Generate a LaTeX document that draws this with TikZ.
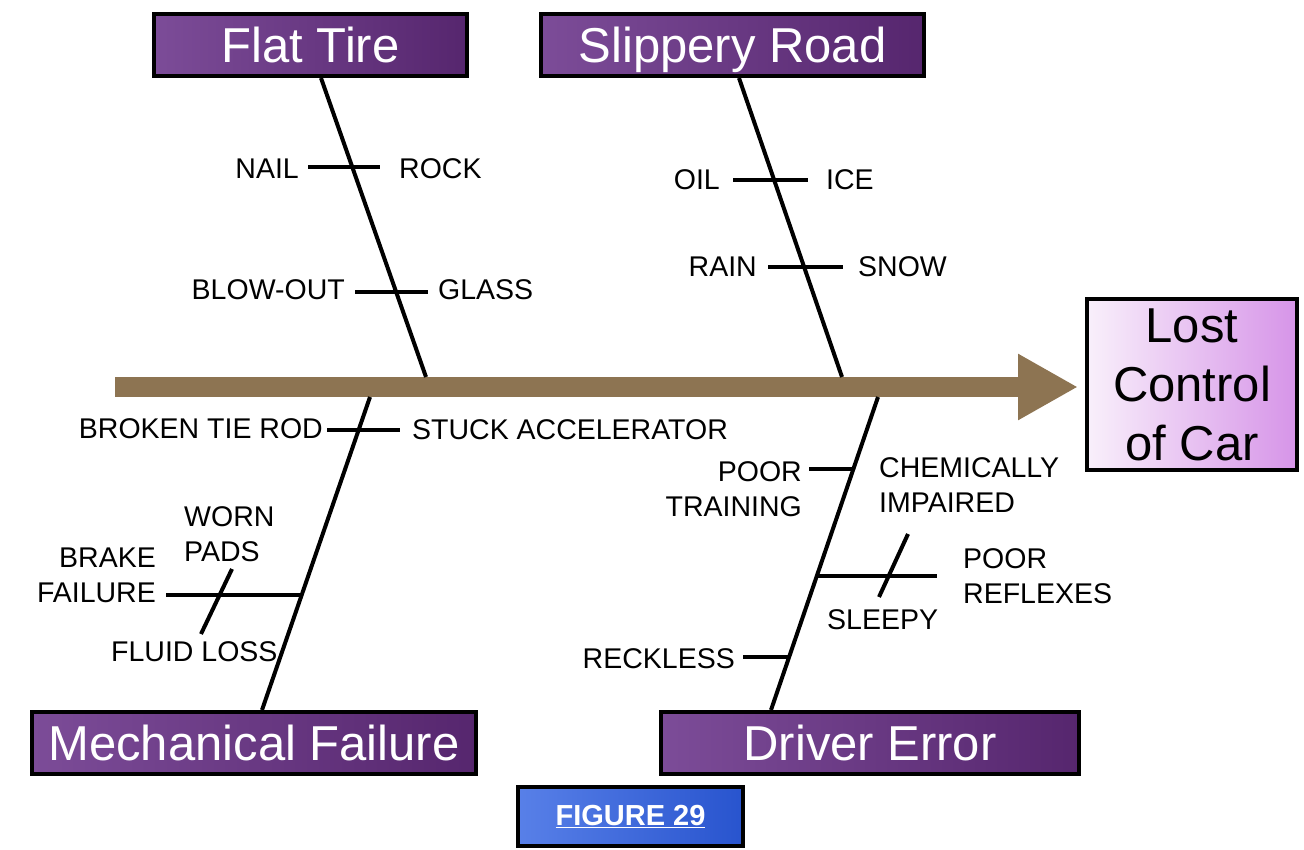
\documentclass[tikz,border=0pt]{standalone}
\usepackage{fontspec}
\setmainfont{Liberation Sans}
\usetikzlibrary{arrows.meta}
\definecolor{purpL}{RGB}{124,76,152}
\definecolor{purpR}{RGB}{86,38,110}
\definecolor{lostL}{RGB}{249,240,251}
\definecolor{lostR}{RGB}{214,148,232}
\definecolor{figL}{RGB}{88,128,232}
\definecolor{figR}{RGB}{40,84,206}
\definecolor{spine}{RGB}{141,116,82}
\begin{document}
\begin{tikzpicture}[x=1pt,y=-1pt,
  bone/.style={line width=4pt,black},
  cat/.style={draw=black,line width=4.5pt,left color=purpL,right color=purpR,text=white,
    font=\fontsize{49}{59}\selectfont,minimum height=62pt,text height=35pt,text depth=0pt,inner sep=0pt},
  lbl/.style={inner sep=0pt,font=\fontsize{28.5}{35}\selectfont}]
\useasboundingbox (0,0) rectangle (1304,850);

\node[cat,minimum width=313pt] (flat) at (310.5,45) {Flat Tire};
\node[cat,minimum width=383pt] (slip) at (732.5,45) {Slippery Road};
\node[cat,minimum width=444pt] (mech) at (254,743) {Mechanical Failure};
\node[cat,minimum width=418pt] (driver) at (870,743) {Driver Error};
\node[draw=black,line width=4.5pt,left color=lostL,right color=lostR,minimum width=210pt,minimum height=171pt,
  align=center,inner sep=0pt,font=\fontsize{49}{59}\selectfont] (lost) at (1192,384.5) {Lost\\Control\\of Car};
\node[draw=black,line width=4.5pt,left color=figL,right color=figR,text=white,minimum width=225pt,minimum height=59pt,
  inner sep=0pt,font=\bfseries\fontsize{29}{35}\selectfont] (fig) at (630.5,816.5) {\underline{FIGURE 29}};

% main arrow
\coordinate (tail) at (115,387);
\coordinate (head) at (1078,387);
\draw[spine,line width=20pt,-{Triangle[length=60pt,width=62pt]}] (tail) -- (head);

% bones
\path (321,78) coordinate (flatTop) (426,377) coordinate (flatEnd)
      (739,78) coordinate (slipTop) (842,377) coordinate (slipEnd)
      (370,397) coordinate (mechTop) (262,710) coordinate (mechEnd)
      (878,397) coordinate (drvTop) (771,710) coordinate (drvEnd);
\draw[bone] (flatTop) -- (flatEnd);
\draw[bone] (slipTop) -- (slipEnd);
\draw[bone] (mechTop) -- (mechEnd);
\draw[bone] (drvTop) -- (drvEnd);

% flat tire
\path (308,167) coordinate (nailL) (380,167) coordinate (nailR)
      (355,292) coordinate (blowL) (428,292) coordinate (blowR);
\draw[bone] (nailL) -- (nailR);
\draw[bone] (blowL) -- (blowR);
\node[lbl,anchor=east] (nail) at (299,168.5) {NAIL};
\node[lbl,anchor=west] (rock) at (399,168.5) {ROCK};
\node[lbl,anchor=east] (blow) at (345,290) {BLOW-OUT};
\node[lbl,anchor=west] (glass) at (438,290) {GLASS};

% slippery road
\path (733,180) coordinate (oilL) (808,180) coordinate (oilR)
      (768,267) coordinate (rainL) (843,267) coordinate (rainR);
\draw[bone] (oilL) -- (oilR);
\draw[bone] (rainL) -- (rainR);
\node[lbl,anchor=east] (oil) at (720,180) {OIL};
\node[lbl,anchor=west] (ice) at (826,180) {ICE};
\node[lbl,anchor=east] (rain) at (757,267) {RAIN};
\node[lbl,anchor=west] (snow) at (858,267) {SNOW};

% mechanical failure
\path (327,430) coordinate (tieL) (400,430) coordinate (tieR)
      (166,595) coordinate (brakeL) (302,595) coordinate (brakeR)
      (232,569) coordinate (padsT) (201,634) coordinate (padsB);
\draw[bone] (tieL) -- (tieR);
\draw[bone] (brakeL) -- (brakeR);
\draw[bone] (padsT) -- (padsB);
\node[lbl,anchor=east] (tie) at (323,429) {BROKEN TIE ROD};
\node[lbl,anchor=west] (accel) at (412,430) {STUCK ACCELERATOR};
\node[lbl,anchor=east,align=right] (brake) at (156,575) {BRAKE\\FAILURE};
\node[lbl,anchor=west,align=left] (worn) at (184,534.5) {WORN\\PADS};
\node[lbl,anchor=west] (fluid) at (111,652) {FLUID LOSS};

% driver error
\path (809,469) coordinate (trainL) (853,469) coordinate (trainR)
      (818,576) coordinate (sleepL) (937,576) coordinate (sleepR)
      (908,534) coordinate (reflexT) (879,597) coordinate (reflexB)
      (743,657) coordinate (reckL) (789,657) coordinate (reckR);
\draw[bone] (trainL) -- (trainR);
\draw[bone] (sleepL) -- (sleepR);
\draw[bone] (reflexT) -- (reflexB);
\draw[bone] (reckL) -- (reckR);
\node[lbl,anchor=east,align=right] (train) at (802,489.5) {POOR\\TRAINING};
\node[lbl,anchor=west,align=left] (chem) at (879,485.5) {CHEMICALLY\\IMPAIRED};
\node[lbl,anchor=west,align=left] (reflex) at (963,576.5) {POOR\\REFLEXES};
\node[lbl,anchor=west] (sleepy) at (827,620) {SLEEPY};
\node[lbl,anchor=east] (reck) at (735,659) {RECKLESS};
\end{tikzpicture}
\end{document}
